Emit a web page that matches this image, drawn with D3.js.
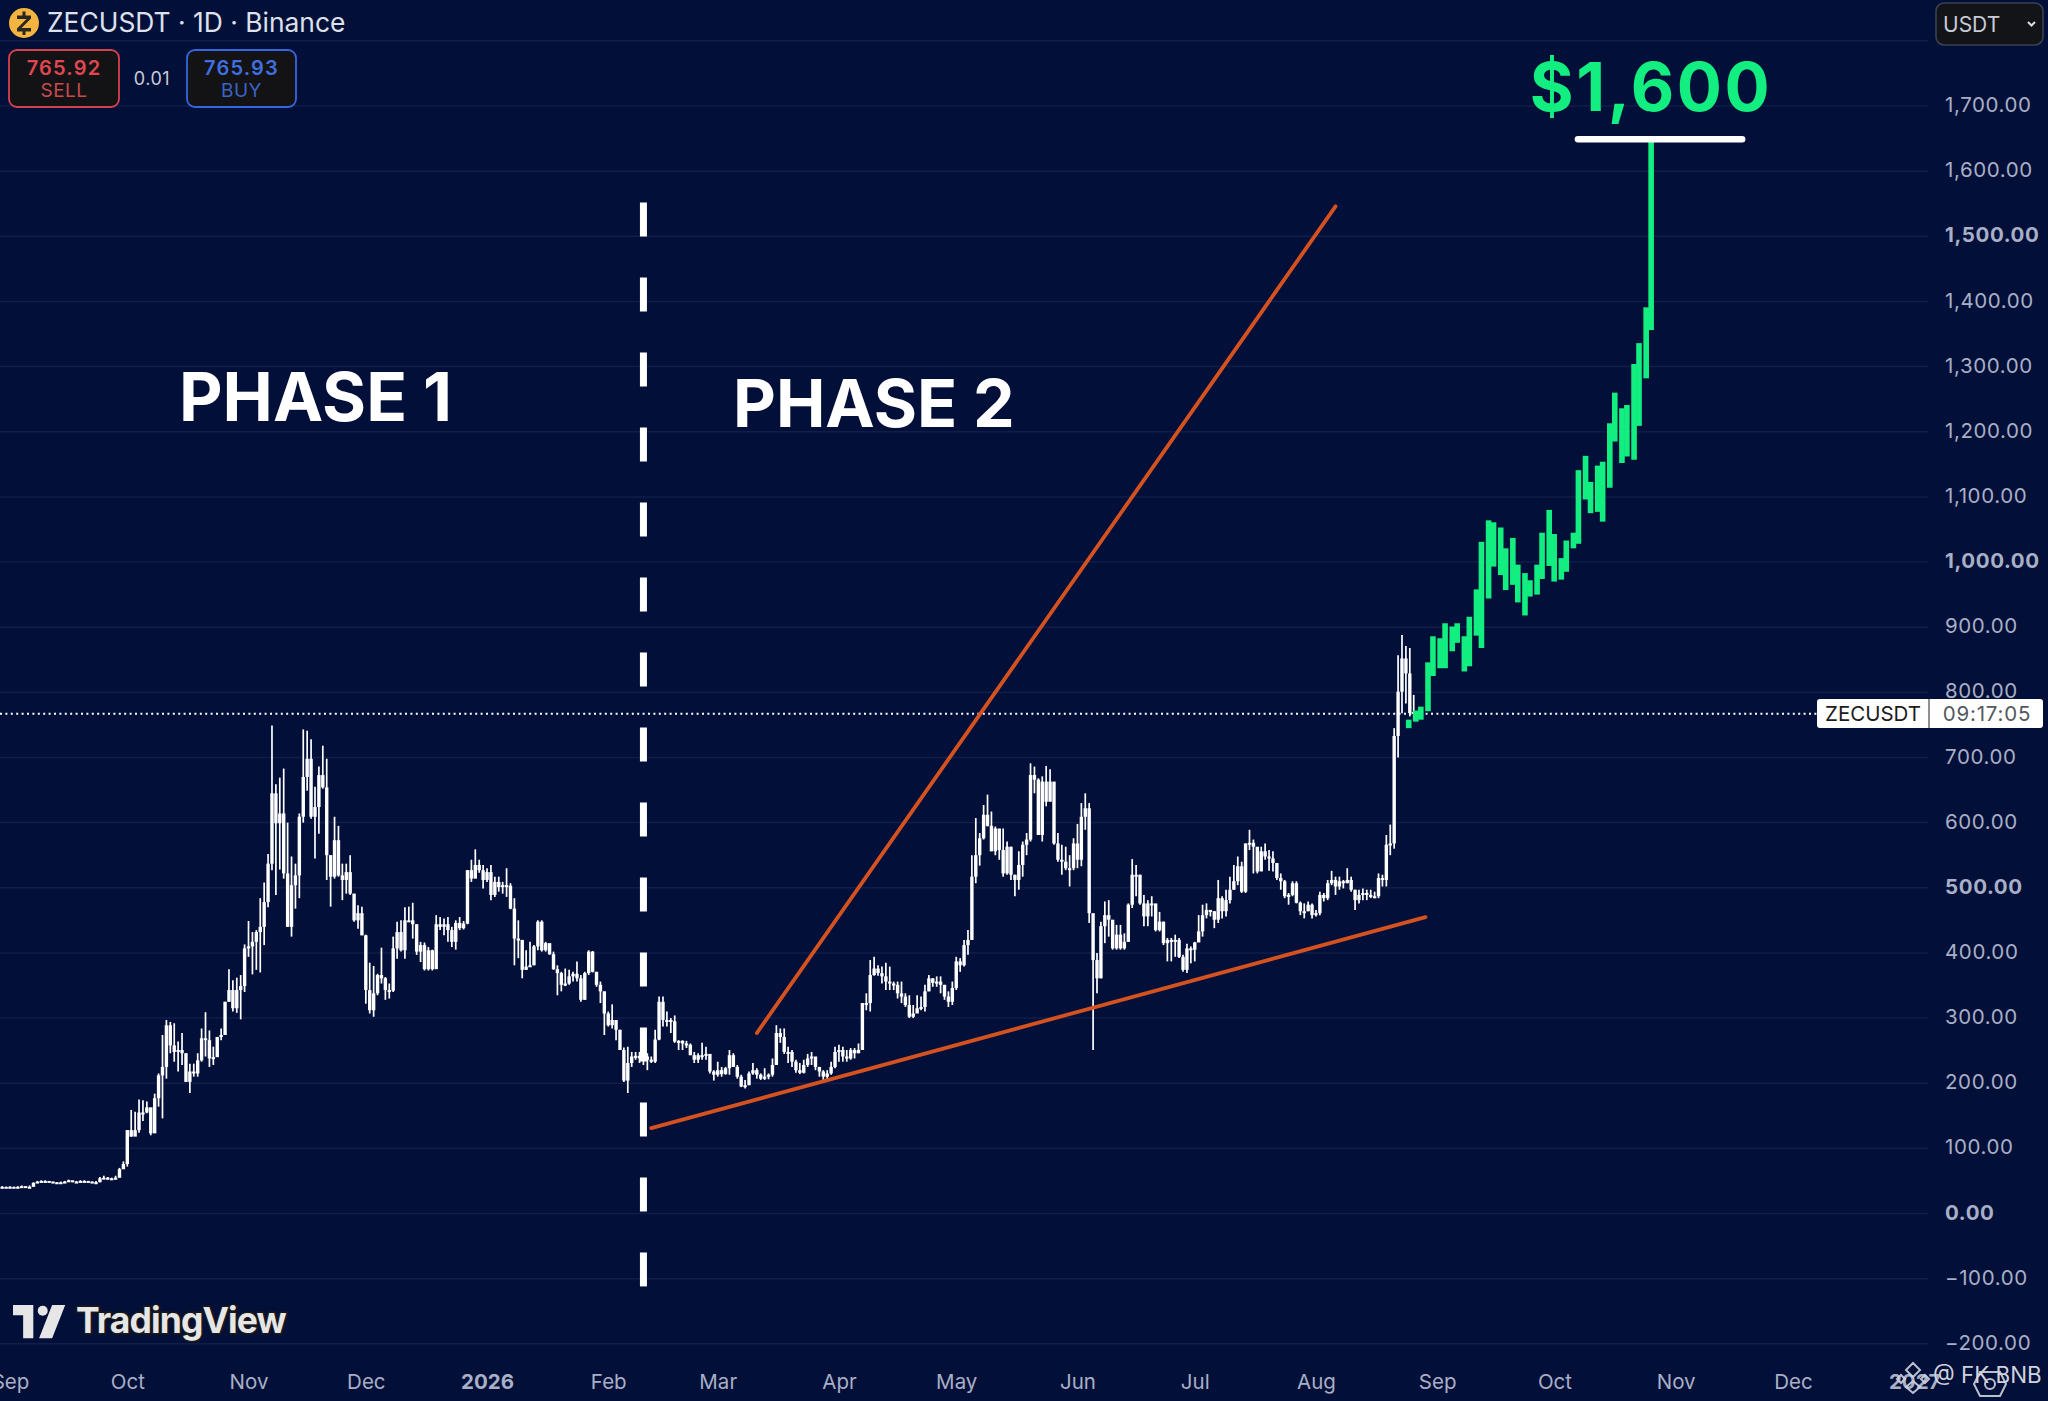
<!DOCTYPE html>
<html>
<head>
<meta charset="utf-8">
<script src="https://cdn.jsdelivr.net/npm/d3@7"></script>
<style>
  html, body { margin: 0; padding: 0; background: #020f38; }
  svg { display: block; }
  text { font-family: Inter, "Noto Sans", sans-serif; }
</style>
</head>
<body>
<svg id="chart" width="2048" height="1401"></svg>
<script>
// daily candles, first one is 2025-08-30, open = previous close
const firstDay = new Date(Date.UTC(2025, 7, 30))
const firstOpen = 40

const closes = [
  41,40,41,40,41,42,41,41,47,49,50,50,49,48,47,48,49,51,49,49,50,50,49,48,48,54,55,54,53,55,68,76,
  128,118,128,155,155,163,123,177,212,225,
  289,258,248,251,246,202,218,215,235,269,
  266,238,240,271,274,325,343,315,343,349,
  407,410,417,432,440,478,537,645,599,614,
  522,440,504,519,609,670,698,609,624,673,
  654,550,517,573,519,512,524,491,450,461,
  427,343,312,338,366,361,343,342,407,432,
  404,450,450,444,402,412,375,404,375,444,
  440,444,435,417,446,438,445,527,514,535,
  527,512,524,489,509,501,504,503,468,422,
  420,374,379,381,410,448,404,415,398,375,
  369,351,353,364,368,361,328,369,402,371,
  351,341,307,289,297,282,251,204,231,241,
  242,238,241,236,233,267,325,297,297,295,
  264,265,261,259,243,236,243,242,245,218,
  213,220,214,223,243,225,210,195,197,215,
  220,213,207,210,213,228,277,271,248,248,
  233,220,216,228,238,241,225,218,210,215,
  225,248,251,241,238,251,246,251,323,323,
  366,376,369,364,356,353,351,338,333,320,
  302,307,315,317,341,361,354,356,351,333,
  325,346,387,381,412,420,517,550,576,612,
  595,556,591,558,522,563,520,512,535,566,
  574,673,666,581,663,632,663,568,543,540,
  530,530,568,543,609,622,461,389,361,441,
  458,451,407,428,407,417,474,520,520,476,
  456,476,476,435,448,415,420,420,420,394,
  374,407,405,416,433,458,466,464,451,484,
  464,481,497,510,533,494,568,569,563,525,
  556,548,545,538,515,510,487,489,507,477,
  464,464,474,458,461,489,484,507,512,502,
  510,507,512,497,481,489,492,489,487,487,
  515,512,566,568,733,801,852,829,768,770
]

const highs = [
  42,41,42,41,42,43,42,43,48,50,51,51,50,49,48,49,50,52,50,50,51,51,50,49,50,56,58,56,55,58,70,80,
  128,159,156,175,174,172,161,184,215,274,
  297,294,292,264,277,246,230,230,246,284,
  309,281,256,271,284,325,375,358,362,366,
  413,449,432,435,484,508,552,749,659,669,
  683,600,548,537,614,743,741,728,655,686,
  718,698,550,609,595,537,537,550,491,473,
  471,428,385,380,368,408,363,353,425,448,
  450,470,471,477,444,417,416,409,405,458,
  455,453,455,440,450,455,449,527,543,559,
  543,535,530,535,517,517,509,530,507,484,
  450,417,404,417,412,450,450,417,412,402,
  381,371,376,374,371,387,366,371,404,403,
  371,356,341,310,321,297,282,255,256,248,
  248,248,256,246,241,282,333,333,310,300,
  304,266,266,265,261,248,246,262,256,243,
  220,233,225,225,251,246,228,213,205,218,
  231,223,215,223,215,238,289,284,284,256,
  251,236,231,236,245,248,233,225,220,220,
  233,256,259,256,251,254,254,261,323,338,
  389,394,381,379,385,379,356,356,356,338,
  335,320,335,333,351,366,361,364,364,351,
  341,356,394,392,420,435,550,607,584,627,
  643,617,594,576,591,571,563,520,556,571,
  584,691,686,668,671,687,682,653,584,566,
  563,550,576,598,630,645,630,458,400,448,
  479,481,448,443,443,430,476,544,535,520,
  489,481,487,474,463,448,423,423,428,423,
  397,414,410,417,458,474,476,466,464,512,
  487,497,517,535,548,540,568,589,574,556,
  563,568,558,556,537,522,512,492,510,510,
  479,476,479,476,466,494,492,512,526,517,
  517,512,530,517,497,497,499,497,497,494,
  522,520,581,597,745,857,888,871,868,796
]

const lows = [
  39,39,40,39,40,40,40,40,41,47,49,49,48,47,46,47,47,49,48,48,49,49,48,47,47,48,53,52,52,52,55,68,
  72,118,123,124,142,154,120,125,164,146,
  207,246,233,218,228,202,185,210,210,233,
  241,225,228,241,266,274,325,310,308,298,
  340,394,367,374,370,412,470,527,489,528,
  514,440,425,468,484,600,649,606,545,583,
  652,512,471,514,517,481,491,489,448,437,
  427,322,307,302,335,353,328,330,340,391,
  402,391,448,422,397,386,373,373,373,384,
  435,427,417,409,405,435,436,444,509,522,
  523,499,509,481,486,494,491,486,467,381,
  392,361,374,379,381,404,402,402,397,374,
  335,341,349,351,356,356,325,328,366,370,
  348,323,274,287,284,266,251,202,185,225,
  236,231,228,220,231,231,266,287,287,277,
  262,251,251,254,243,231,231,236,236,215,
  204,210,210,213,213,225,207,194,192,197,
  213,207,205,205,206,210,228,262,245,231,
  225,216,214,215,225,228,220,210,205,205,
  213,223,233,233,233,236,238,246,251,312,
  310,365,365,353,343,343,343,330,323,317,
  300,300,312,312,310,341,348,348,338,328,
  317,320,343,371,379,397,420,507,534,574,
  594,556,550,543,517,520,512,487,497,517,
  550,571,645,581,571,625,645,566,540,520,
  527,502,527,530,533,589,446,251,338,361,
  415,425,405,405,405,405,417,469,487,474,
  441,441,456,433,433,412,387,387,394,392,
  371,369,384,387,425,425,453,456,438,446,
  453,456,476,497,504,492,492,558,522,522,
  535,543,526,525,512,497,484,474,487,476,
  458,453,464,453,456,458,479,481,504,489,
  497,499,507,494,466,476,481,481,484,484,
  484,502,502,550,560,700,768,783,763,758
]

// green projection bars (bars pattern drawing)
const projFirstDay = new Date(Date.UTC(2026, 7, 25))
const projLastDay = new Date(Date.UTC(2026, 9, 26))
const projHighs = [758,772,778,846,886,883,906,901,906,886,916,958,1031,1064,1061,1053,1021,1037,996,983,972,996,1045,1080,1043,1006,1033,1045,1141,1163,1123,1148,1154,1213,1260,1236,1241,1304,1336,1391,1648]
const projLows = [745,755,758,771,825,837,837,863,876,832,840,887,868,944,993,980,957,965,938,918,947,950,974,994,970,973,985,1021,1028,1096,1075,1077,1062,1114,1185,1152,1162,1157,1209,1282,1356]

const priceTicks = [1700,1600,1500,1400,1300,1200,1100,1000,900,800,700,600,500,400,300,200,100,0,-100,-200]
const boldPrices = [1500,1000,500,0]
const gridPrices = [1800].concat(priceTicks)

const monthTicks = [[2025,8,'Sep'],[2025,9,'Oct'],[2025,10,'Nov'],[2025,11,'Dec'],[2026,0,'2026'],[2026,1,'Feb'],[2026,2,'Mar'],[2026,3,'Apr'],[2026,4,'May'],[2026,5,'Jun'],[2026,6,'Jul'],[2026,7,'Aug'],[2026,8,'Sep'],[2026,9,'Oct'],[2026,10,'Nov'],[2026,11,'Dec'],[2027,0,'2027']]

const lastPrice = 767
const phaseDay = new Date(Date.UTC(2026, 1, 10))
const phaseTop = 1552, phaseBottom = -113
const supportLine = [[new Date(Date.UTC(2026, 1, 12)), 131], [new Date(Date.UTC(2026, 7, 29)), 455]]
const growthLine = [[new Date(Date.UTC(2026, 2, 11)), 277], [new Date(Date.UTC(2026, 7, 6)), 1546]]
const targetLine = [[new Date(Date.UTC(2026, 9, 7)), 1649], [new Date(Date.UTC(2026, 10, 18)), 1649]]

const bg = '#020f38', gridColor = '#121e4a', axisColor = '#a8afc6'
const orange = '#d4521f', green = '#13ee80'

const svg = d3.select('#chart')
svg.append('rect').attr('width', 2048).attr('height', 1401).attr('fill', bg)

const x = d3.scaleUtc()
  .domain([new Date(Date.UTC(2025, 8, 1)), new Date(Date.UTC(2026, 11, 1))])
  .range([10, 1793])
const y = d3.scaleLinear().domain([0, 1700]).range([1213.5, 106])

// grid
svg.append('g').selectAll('line').data(gridPrices).enter().append('line')
  .attr('x1', 0).attr('x2', 1928)
  .attr('y1', d => y(d)).attr('y2', d => y(d))
  .attr('stroke', gridColor).attr('stroke-width', 1.5)

// price axis
const yAxis = d3.axisRight(y).tickValues(priceTicks).tickSize(0).tickPadding(0)
  .tickFormat(d3.format(',.2f'))
const yG = svg.append('g').attr('transform', 'translate(1945,-1)').call(yAxis)
yG.select('.domain').remove()
yG.selectAll('text')
  .attr('fill', axisColor).style('font-size', '20.5px').style('letter-spacing', '0.6px')
  .style('font-weight', d => boldPrices.includes(d) ? 700 : 400)

// time axis
const monthDates = monthTicks.map(d => new Date(Date.UTC(d[0], d[1], 1)))
const xAxis = d3.axisBottom(x).tickValues(monthDates).tickSize(0).tickPadding(0)
  .tickFormat((d, i) => monthTicks[i][2])
const xG = svg.append('g').attr('transform', 'translate(0,1374)').call(xAxis)
xG.select('.domain').remove()
xG.selectAll('text')
  .attr('fill', axisColor).style('font-size', '20.5px')
  .style('font-weight', (d, i) => monthTicks[i][1] === 0 ? 700 : 400)

// last price line
svg.append('line')
  .attr('x1', 0).attr('x2', 1820).attr('y1', y(lastPrice)).attr('y2', y(lastPrice))
  .attr('stroke', '#fff').attr('stroke-width', 2).attr('stroke-dasharray', '2 3.4')

// candles
const candles = closes.map((c, i) => ({
  date: d3.utcDay.offset(firstDay, i),
  open: i ? closes[i - 1] : firstOpen,
  close: c, high: highs[i], low: lows[i]
}))
const candle = svg.append('g').selectAll('g').data(candles).enter().append('g')
candle.append('line')
  .attr('x1', d => x(d.date)).attr('x2', d => x(d.date))
  .attr('y1', d => y(d.high)).attr('y2', d => y(d.low))
  .attr('stroke', '#fff').attr('stroke-width', 1.7)
candle.append('rect')
  .attr('x', d => x(d.date) - 1.7).attr('width', 3.4)
  .attr('y', d => y(Math.max(d.open, d.close)))
  .attr('height', d => Math.max(2, Math.abs(y(d.open) - y(d.close))))
  .attr('fill', '#fff')

// projection bars
const xProj = d3.scaleLinear().domain([0, projHighs.length - 1]).range([x(projFirstDay), x(projLastDay)])
svg.append('g').selectAll('rect').data(projHighs).enter().append('rect')
  .attr('x', (d, i) => xProj(i) - 2.8 - (i % 2 ? 0 : 1.1))
  .attr('width', 5.6)
  .attr('y', d => y(d))
  .attr('height', (d, i) => y(projLows[i]) - y(d))
  .attr('fill', green)

// phase divider
svg.append('line')
  .attr('x1', x(phaseDay)).attr('x2', x(phaseDay))
  .attr('y1', y(phaseTop)).attr('y2', y(phaseBottom))
  .attr('stroke', '#fff').attr('stroke-width', 7).attr('stroke-dasharray', '34 41')

// trend lines
const line = d3.line().x(d => x(d[0])).y(d => y(d[1]))
svg.append('path').attr('d', line(supportLine)).attr('fill', 'none')
  .attr('stroke', orange).attr('stroke-width', 3.8).attr('stroke-linecap', 'round')
svg.append('path').attr('d', line(growthLine)).attr('fill', 'none')
  .attr('stroke', orange).attr('stroke-width', 3.8).attr('stroke-linecap', 'round')
svg.append('path').attr('d', line(targetLine)).attr('fill', 'none')
  .attr('stroke', '#fff').attr('stroke-width', 6.5).attr('stroke-linecap', 'round')

// big labels
svg.append('text').attr('x', 1651).attr('y', 111).attr('text-anchor', 'middle')
  .attr('fill', green).style('font-size', '67px').style('font-weight', 700).style('letter-spacing', '2.6px').text('$1,600')
svg.append('text').attr('x', 179).attr('y', 421)
  .attr('fill', '#fff').style('font-size', '67.3px').style('font-weight', 700).text('PHASE 1')
svg.append('text').attr('x', 733).attr('y', 427)
  .attr('fill', '#fff').style('font-size', '66.2px').style('font-weight', 700).text('PHASE 2')

// header
svg.append('circle').attr('cx', 24).attr('cy', 23).attr('r', 15).attr('fill', '#f3b53f')
svg.append('path').attr('d', 'M17 15.5h14v3l-9.5 9.5h9.5v3.5h-14v-3l9.5-9.5h-9.5zM22.5 11.5h3v4h-3zM22.5 31h3v4h-3z')
  .attr('fill', '#2a2620')
svg.append('text').attr('x', 47).attr('y', 32).attr('fill', '#dde1ec')
  .style('font-size', '26.4px').text('ZECUSDT · 1D · Binance')

const quoteBox = (bx, w, stroke, priceFill, labelFill, price, label) => {
  svg.append('rect').attr('x', bx).attr('y', 50).attr('width', w).attr('height', 57).attr('rx', 8)
    .attr('fill', '#131316').attr('stroke', stroke).attr('stroke-width', 1.8)
  svg.append('text').attr('x', bx + w / 2).attr('y', 75).attr('text-anchor', 'middle')
    .attr('fill', priceFill).style('font-size', '20px').style('font-weight', 600).style('letter-spacing', '1.2px').text(price)
  svg.append('text').attr('x', bx + w / 2).attr('y', 97).attr('text-anchor', 'middle')
    .attr('fill', labelFill).style('font-size', '19px').style('letter-spacing', '0.5px').text(label)
}
quoteBox(9, 110, '#d6424c', '#e0474f', '#c94a4d', '765.92', 'SELL')
quoteBox(187, 109, '#3566e0', '#3f6fe0', '#3a63c4', '765.93', 'BUY')
svg.append('text').attr('x', 152).attr('y', 85).attr('text-anchor', 'middle')
  .attr('fill', '#c8ccd8').style('font-size', '18px').style('letter-spacing', '0.5px').text('0.01')

// currency dropdown
svg.append('rect').attr('x', 1936).attr('y', 3).attr('width', 107).attr('height', 42).attr('rx', 8)
  .attr('fill', '#131418').attr('stroke', '#3a4152').attr('stroke-width', 1.6)
svg.append('text').attr('x', 1943).attr('y', 32).attr('fill', '#c8ccd8').style('font-size', '21px').text('USDT')
svg.append('path').attr('d', 'M2028 22l3.5 3.5 3.5-3.5').attr('fill', 'none').attr('stroke', '#d8dce4').attr('stroke-width', 2)

// countdown label
svg.append('rect').attr('x', 1817).attr('y', 699).attr('width', 226).attr('height', 29).attr('rx', 3).attr('fill', '#fff')
svg.append('line').attr('x1', 1929).attr('x2', 1929).attr('y1', 699).attr('y2', 728).attr('stroke', '#222').attr('stroke-width', 1)
svg.append('text').attr('x', 1873).attr('y', 721).attr('text-anchor', 'middle')
  .attr('fill', '#1b1b20').style('font-size', '20.5px').text('ZECUSDT')
svg.append('text').attr('x', 1987).attr('y', 721).attr('text-anchor', 'middle')
  .attr('fill', '#55585f').style('font-size', '20.5px').style('letter-spacing', '0.8px').text('09:17:05')

// TradingView logo
svg.append('path').attr('transform', 'translate(13,1305) scale(1.45)')
  .attr('d', 'M14 0H0v7h7v16h7V0zM36 0h-9l-9 23h9z')
  .attr('fill', '#e6e6e6')
svg.append('circle').attr('cx', 13 + 20.5 * 1.45).attr('cy', 1305 + 4 * 1.45).attr('r', 5).attr('fill', '#e6e6e6')
svg.append('text').attr('x', 76).attr('y', 1333).attr('fill', '#e6e6e6')
  .attr('stroke', '#17171c').attr('stroke-width', 3.5).attr('paint-order', 'stroke')
  .style('font-size', '35.5px').style('font-weight', 700).style('letter-spacing', '-0.9px').text('TradingView')

// watermark
const mark = svg.append('g').attr('fill', 'none').attr('stroke', '#cfd3de').attr('stroke-width', 2).attr('opacity', 0.9)
mark.append('path').attr('d', 'M1913 1363l7 7-7 7-7-7zM1901 1375l4 4-4 4-4-4zM1925 1375l4 4-4 4-4-4zM1913 1381l7 6-7 6-7-6z')
mark.append('path').attr('d', 'M1980 1372h20l6 12-6 12h-20l-6-12z')
mark.append('circle').attr('cx', 1990).attr('cy', 1384).attr('r', 5)
svg.append('text').attr('x', 1933).attr('y', 1383).attr('fill', '#cfd3de')
  .style('font-size', '22.4px').text('@ FK BNB')
</script>
</body>
</html>
